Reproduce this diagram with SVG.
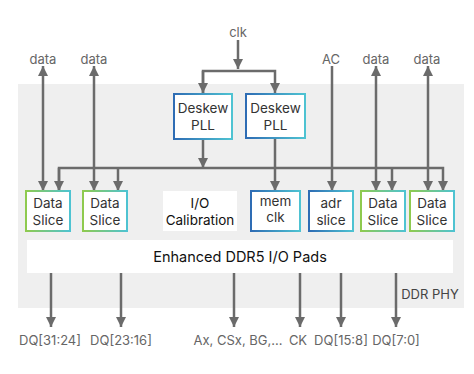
<svg xmlns="http://www.w3.org/2000/svg" width="474" height="374" viewBox="0 0 474 374">
<defs>
<linearGradient id="gBlue" x1="0" y1="0" x2="1" y2="0">
<stop offset="0" stop-color="#2e6cb4"/><stop offset="1" stop-color="#4ec3d2"/>
</linearGradient>
<linearGradient id="gGreen" x1="0" y1="0" x2="1" y2="0">
<stop offset="0" stop-color="#8fca4e"/><stop offset="1" stop-color="#4ec3d2"/>
</linearGradient>
<marker id="ah" viewBox="0 0 10 10" refX="10" refY="5" markerWidth="10" markerHeight="10" markerUnits="userSpaceOnUse" orient="auto-start-reverse">
<path d="M0,0 L10,5 L0,10 Z" fill="#6b6b6b"/>
</marker>
<style>
.ln{stroke:#6b6b6b;stroke-width:2.5;fill:none}
.lbl{font-family:Inter,"Noto Sans",sans-serif;font-size:13px;fill:#666;text-anchor:middle}
.bt{font-family:Inter,"Noto Sans",sans-serif;font-size:13.5px;fill:#333;text-anchor:middle}
.bb{fill:#fff;stroke:url(#gBlue);stroke-width:2}
.bg{fill:#fff;stroke:url(#gGreen);stroke-width:2}
</style>
</defs>
<rect x="18" y="84" width="446" height="224" fill="#efefef"/>
<g id="connectors">
<path class="ln" d="M238,40 V69" marker-end="url(#ah)"/>
<path class="ln" d="M203,93 V71 H275 V93" marker-end="url(#ah)"/>
<path class="ln" d="M203,71 V93" marker-end="url(#ah)"/>
<path class="ln" d="M203,139 V168" marker-end="url(#ah)"/>
<path class="ln" d="M275,138 V191" marker-end="url(#ah)"/>
<path class="ln" d="M59,191 V168 H443 V191" marker-end="url(#ah)"/>
<path class="ln" d="M59,168 V191" marker-end="url(#ah)"/>
<path class="ln" d="M118,168 V191" marker-end="url(#ah)"/>
<path class="ln" d="M392,168 V191" marker-end="url(#ah)"/>
<path class="ln" d="M43,66 V191" marker-start="url(#ah)" marker-end="url(#ah)"/>
<path class="ln" d="M94,66 V191" marker-start="url(#ah)" marker-end="url(#ah)"/>
<path class="ln" d="M376,66 V191" marker-start="url(#ah)" marker-end="url(#ah)"/>
<path class="ln" d="M428,66 V191" marker-start="url(#ah)" marker-end="url(#ah)"/>
<path class="ln" d="M332,66 V191" marker-end="url(#ah)"/>
<path class="ln" d="M51,273 V327" marker-end="url(#ah)"/>
<path class="ln" d="M121,273 V327" marker-end="url(#ah)"/>
<path class="ln" d="M234,273 V327" marker-end="url(#ah)"/>
<path class="ln" d="M300,273 V327" marker-end="url(#ah)"/>
<path class="ln" d="M341,273 V327" marker-end="url(#ah)"/>
<path class="ln" d="M396,273 V327" marker-end="url(#ah)"/>
</g>
<g id="labels">
<text class="lbl" x="238" y="37">clk</text>
<text class="lbl" x="43" y="64">data</text>
<text class="lbl" x="94" y="64">data</text>
<text class="lbl" x="331" y="64">AC</text>
<text class="lbl" x="376" y="64">data</text>
<text class="lbl" x="427" y="64">data</text>
<text class="lbl" x="50" y="345">DQ[31:24]</text>
<text class="lbl" x="121" y="345">DQ[23:16]</text>
<text class="lbl" x="238" y="345">Ax, CSx, BG,...</text>
<text class="lbl" x="298" y="345">CK</text>
<text class="lbl" x="341" y="345">DQ[15:8]</text>
<text class="lbl" x="396" y="345">DQ[7:0]</text>
<text class="bt" x="430" y="299" style="fill:#444;font-size:13px">DDR PHY</text>
</g>
<g id="pll1"><rect class="bb" x="174" y="94" width="58" height="45"/><text class="bt" x="203" y="113">Deskew</text><text class="bt" x="203" y="130">PLL</text></g>
<g id="pll2"><rect class="bb" x="246" y="94" width="59" height="44"/><text class="bt" x="275.5" y="113">Deskew</text><text class="bt" x="275.5" y="130">PLL</text></g>
<g id="ds1"><rect class="bg" x="26" y="191" width="44" height="40"/><text class="bt" x="48" y="208">Data</text><text class="bt" x="48" y="225">Slice</text></g>
<g id="ds2"><rect class="bg" x="83" y="191" width="44" height="40"/><text class="bt" x="105" y="208">Data</text><text class="bt" x="105" y="225">Slice</text></g>
<g id="iocal"><rect x="163" y="191" width="74" height="40" fill="#fff"/><text class="bt" x="200" y="208" style="fill:#111">I/O</text><text class="bt" x="200" y="225" style="fill:#111">Calibration</text></g>
<g id="memclk"><rect class="bb" x="251" y="191" width="49" height="40"/><text class="bt" x="275.5" y="206">mem</text><text class="bt" x="275.5" y="222">clk</text></g>
<g id="adr"><rect class="bb" x="309" y="191" width="44" height="40"/><text class="bt" x="331" y="208">adr</text><text class="bt" x="331" y="225">slice</text></g>
<g id="ds3"><rect class="bg" x="361" y="191" width="44" height="40"/><text class="bt" x="383" y="208">Data</text><text class="bt" x="383" y="225">Slice</text></g>
<g id="ds4"><rect class="bg" x="410" y="191" width="44" height="40"/><text class="bt" x="432" y="208">Data</text><text class="bt" x="432" y="225">Slice</text></g>
<g id="pads"><rect x="27" y="240" width="426" height="33" fill="#fff"/><text class="bt" x="240" y="262" style="font-size:14.5px;fill:#111">Enhanced DDR5 I/O Pads</text></g>
</svg>
